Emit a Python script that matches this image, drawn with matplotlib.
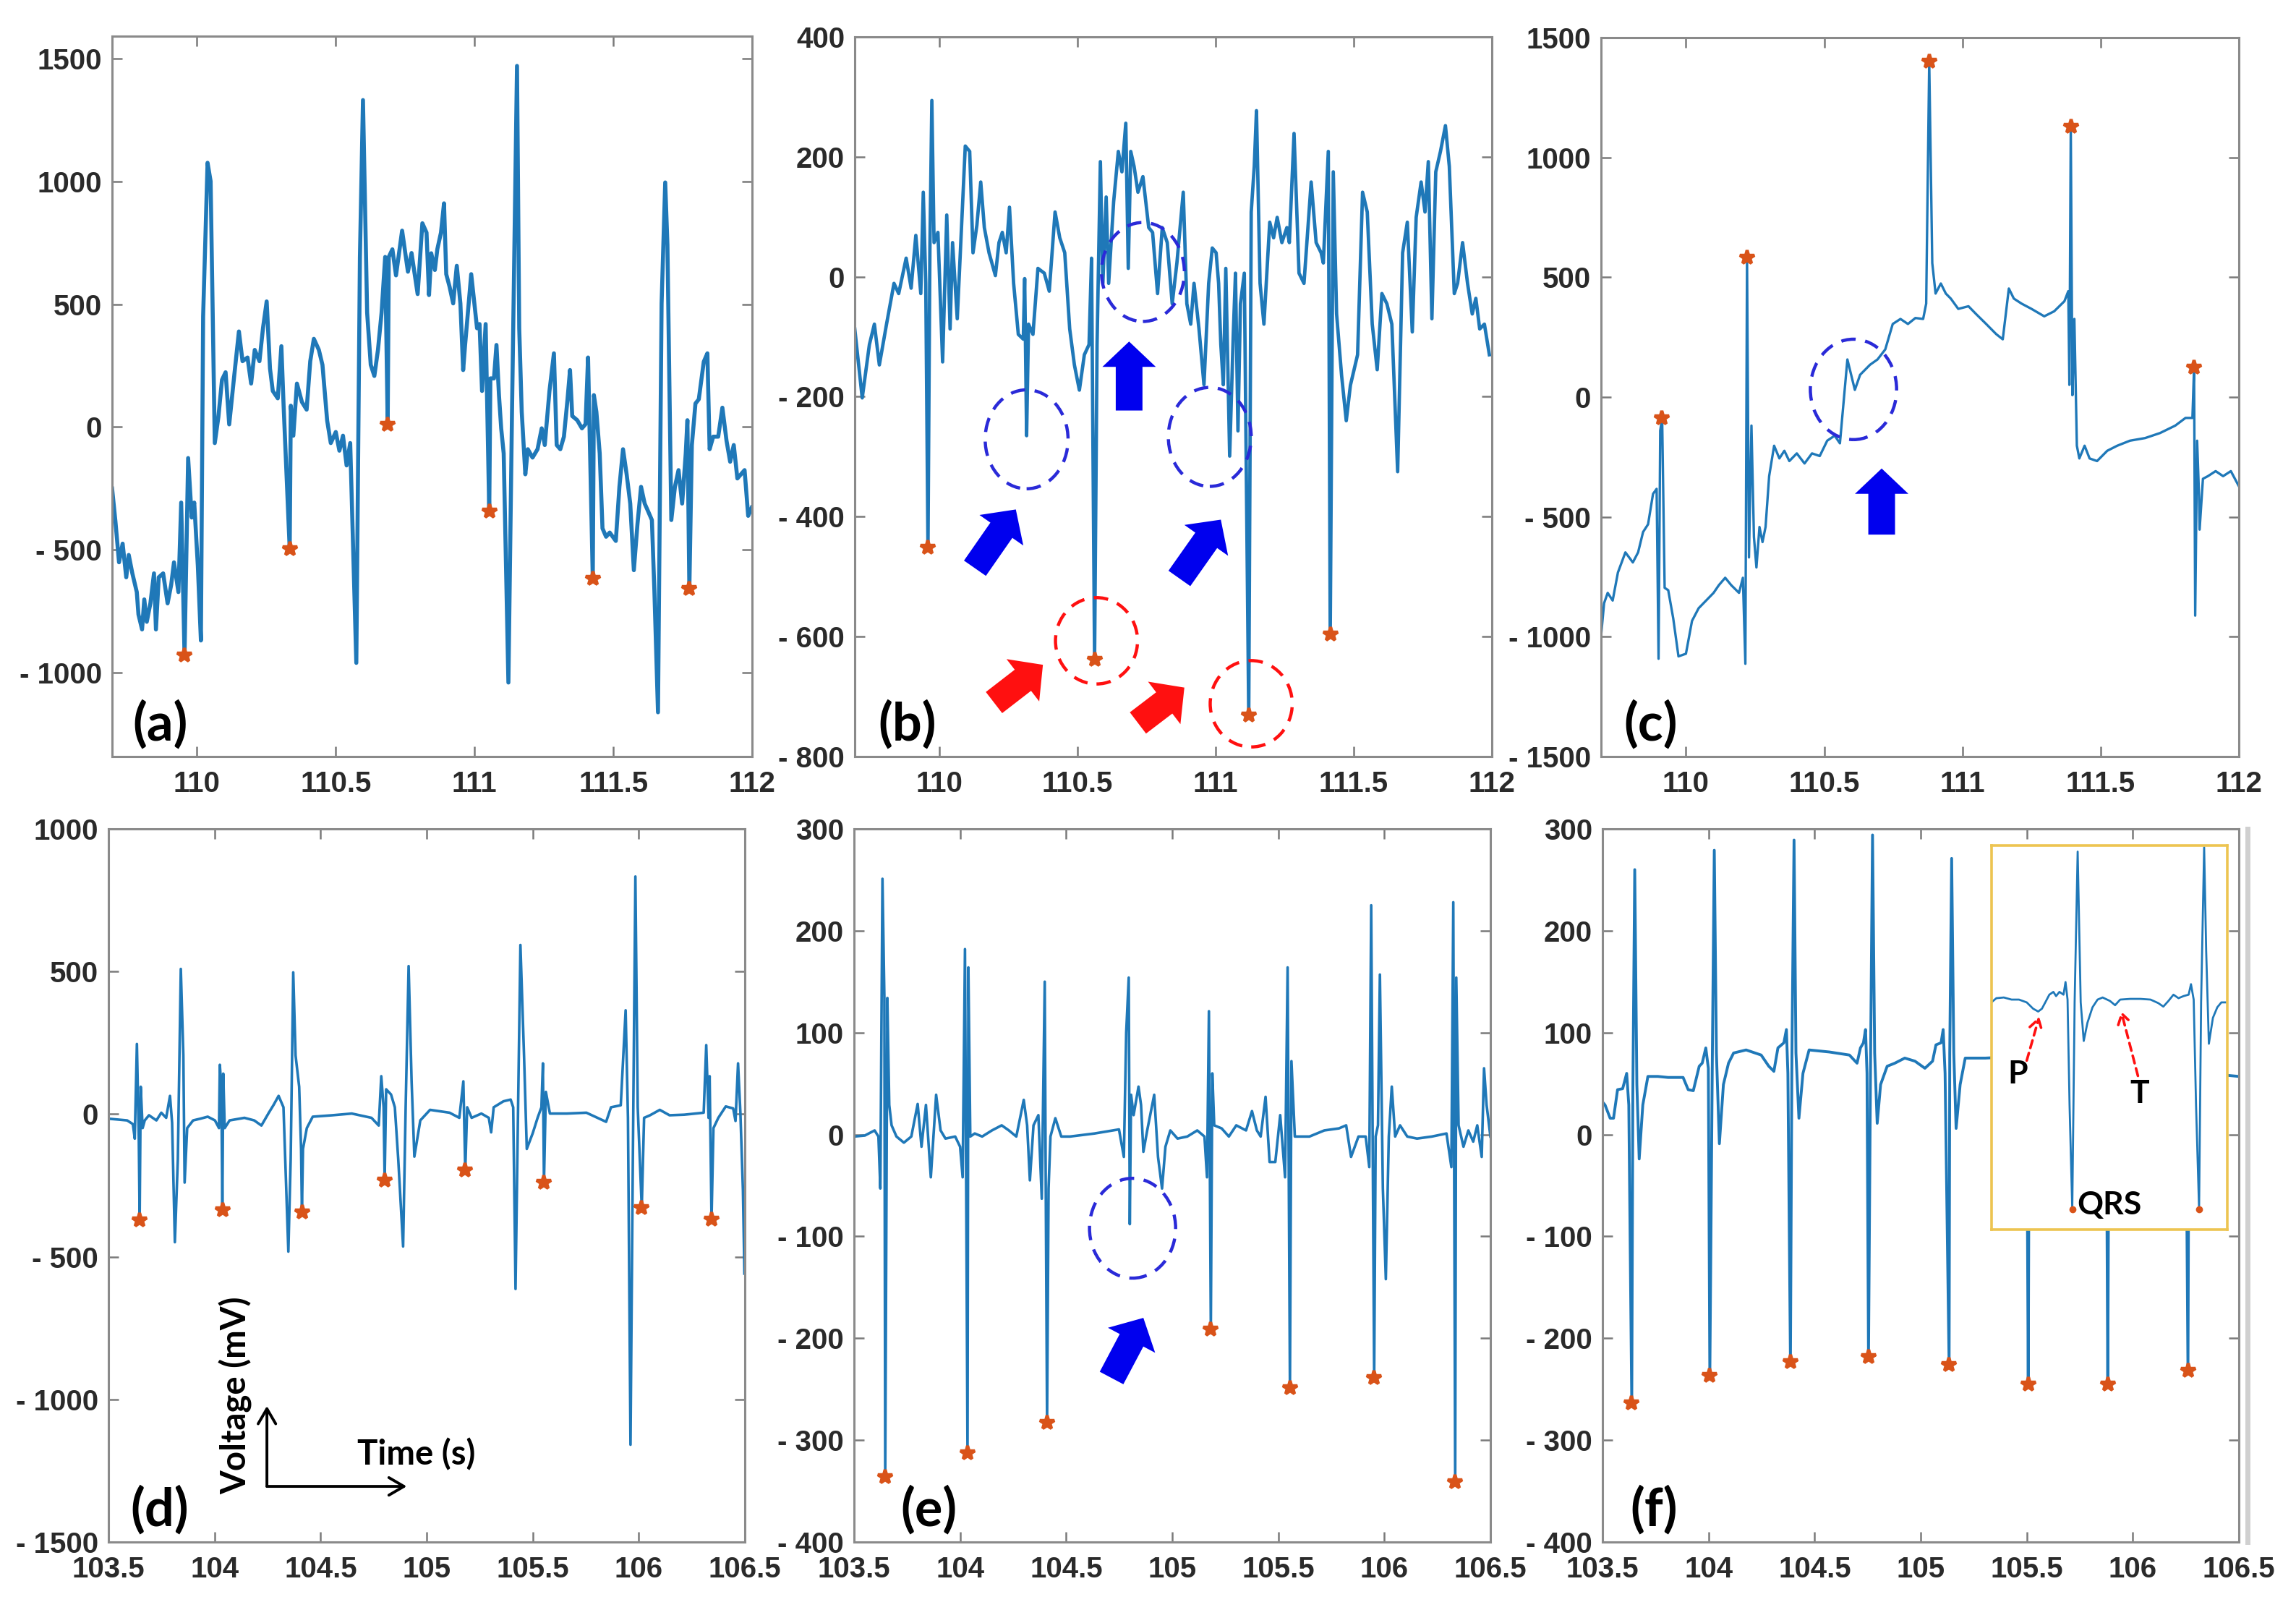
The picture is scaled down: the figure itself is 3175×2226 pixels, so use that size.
import matplotlib
matplotlib.use("Agg")
import matplotlib.pyplot as plt
import numpy as np
from matplotlib.patches import Ellipse
from matplotlib.lines import Line2D

plt.rcParams.update({
    "font.family": ["Liberation Sans Narrow", "Liberation Sans", "DejaVu Sans"],
    "font.size": 12.5,
})

TRACE_COLOR = "#1f78b8"
PEAK_COLOR = "#D95319"
LABEL_FONT = ["Lato", "DejaVu Sans"]

# ---------------- data: (time s, voltage mV) ----------------
A_TRACE = [
    (109.694, -250), (109.706, -383), (109.719, -550), (109.732, -474), (109.745, -611),
    (109.754, -520), (109.767, -595), (109.783, -671), (109.789, -762), (109.802, -823),
    (109.810, -701), (109.819, -792), (109.832, -717), (109.845, -595), (109.852, -823),
    (109.862, -611), (109.878, -595), (109.894, -717), (109.907, -641), (109.917, -550),
    (109.933, -671), (109.943, -307), (109.955, -929), (109.968, -126), (109.981, -368),
    (109.990, -307), (110.003, -565), (110.014, -868), (110.022, 450), (110.038, 1075),
    (110.049, 1000), (110.064, -65), (110.077, 41), (110.090, 192), (110.103, 223),
    (110.116, 11), (110.134, 208), (110.151, 389), (110.164, 268), (110.182, 283),
    (110.195, 177), (110.208, 314), (110.225, 268), (110.238, 405), (110.251, 511),
    (110.263, 238), (110.273, 147), (110.291, 117), (110.304, 329), (110.312, 87),
    (110.334, -497), (110.338, 87), (110.347, -35), (110.360, 177), (110.378, 102),
    (110.395, 71), (110.408, 268), (110.421, 359), (110.439, 314), (110.452, 253),
    (110.469, 26), (110.482, -65), (110.500, -20), (110.513, -96), (110.526, -35),
    (110.539, -156), (110.552, -65), (110.574, -959), (110.587, 692), (110.598, 1330),
    (110.613, 465), (110.626, 253), (110.639, 208), (110.652, 314), (110.665, 465),
    (110.678, 692), (110.687, 11), (110.691, 692), (110.704, 723), (110.717, 617),
    (110.739, 799), (110.760, 632), (110.773, 708), (110.795, 541), (110.812, 829),
    (110.827, 791), (110.836, 537), (110.844, 707), (110.857, 639), (110.866, 724),
    (110.879, 791), (110.890, 910), (110.898, 622), (110.910, 571), (110.923, 503),
    (110.936, 656), (110.949, 503), (110.959, 232), (110.966, 334), (110.988, 622),
    (111.001, 486), (111.009, 402), (111.018, 419), (111.027, 147), (111.040, 419),
    (111.053, -344), (111.057, 198), (111.070, 198), (111.079, 334), (111.088, 130),
    (111.096, -5), (111.105, -107), (111.122, -1039), (111.135, 62), (111.153, 1469),
    (111.161, 402), (111.170, 62), (111.183, -192), (111.192, -90), (111.209, -124),
    (111.227, -90), (111.242, -5), (111.253, -73), (111.270, 147), (111.286, 300),
    (111.296, -73), (111.309, -90), (111.322, -39), (111.335, 113), (111.344, 232),
    (111.352, 45), (111.370, 28), (111.387, -5), (111.400, 12), (111.409, 283),
    (111.426, -615), (111.430, 130), (111.439, 62), (111.451, -107), (111.461, -412),
    (111.474, -446), (111.487, -429), (111.509, -463), (111.522, -243), (111.535, -90),
    (111.548, -192), (111.561, -311), (111.574, -582), (111.587, -395), (111.600, -243),
    (111.613, -311), (111.626, -344), (111.639, -378), (111.648, -666), (111.661, -1160),
    (111.674, 503), (111.687, 995), (111.695, 741), (111.709, -378), (111.722, -243),
    (111.735, -175), (111.748, -311), (111.761, -107), (111.767, 28), (111.774, -658),
    (111.783, -73), (111.796, 96), (111.808, 113), (111.826, 266), (111.839, 300),
    (111.847, -90), (111.860, -39), (111.878, -39), (111.893, 79), (111.908, -56),
    (111.921, -141), (111.934, -73), (111.947, -209), (111.960, -192), (111.973, -175),
    (111.986, -361), (111.999, -327),
]
A_PEAK_T = [109.955, 110.334, 110.687, 111.053, 111.426, 111.774]
A_PEAK_V = [-929, -497, 11, -344, -615, -658]

B_TRACE = [
    (109.694, -87), (109.721, -202), (109.747, -113), (109.765, -79), (109.783, -147),
    (109.809, -79), (109.836, -11), (109.853, -28), (109.880, 31), (109.898, -19),
    (109.915, 69), (109.933, -28), (109.942, 141), (109.951, -11), (109.959, -452),
    (109.966, 48), (109.973, 294), (109.981, 57), (109.995, 74), (110.012, -142),
    (110.027, 103), (110.039, -87), (110.048, 57), (110.065, -70), (110.094, 218),
    (110.110, 209), (110.122, 40), (110.136, 86), (110.150, 158), (110.163, 82),
    (110.180, 40), (110.203, 2), (110.216, 57), (110.228, 74), (110.242, 40),
    (110.254, 116), (110.269, -11), (110.286, -96), (110.304, -104), (110.309, -3),
    (110.316, -265), (110.323, -79), (110.339, -96), (110.357, 14), (110.380, 6),
    (110.398, -24), (110.419, 108), (110.436, 65), (110.454, 40), (110.472, -87),
    (110.489, -147), (110.507, -189), (110.525, -130), (110.542, -113), (110.551, 31),
    (110.562, -638), (110.571, -113), (110.583, 192), (110.592, -11), (110.604, 133),
    (110.613, -11), (110.631, 125), (110.648, 209), (110.661, 175), (110.675, 256),
    (110.684, 14), (110.693, 209), (110.705, 184), (110.719, 141), (110.737, 167),
    (110.758, 82), (110.772, 74), (110.790, -28), (110.807, 82), (110.825, 57),
    (110.843, -45), (110.860, 23), (110.883, 141), (110.896, -45), (110.910, -79),
    (110.922, -11), (110.940, -87), (110.958, -180), (110.975, -11), (110.988, 48),
    (111.002, 40), (111.011, -11), (111.019, -113), (111.028, -180), (111.037, 14),
    (111.051, -299), (111.064, -96), (111.072, 6), (111.081, -257), (111.090, -45),
    (111.104, 6), (111.120, -731), (111.129, 108), (111.140, 184), (111.148, 277),
    (111.161, -11), (111.175, -79), (111.196, 91), (111.210, 65), (111.223, 99),
    (111.240, 57), (111.258, 82), (111.267, 57), (111.284, 239), (111.302, 6),
    (111.320, -11), (111.346, 158), (111.364, 57), (111.382, 40), (111.390, 23),
    (111.408, 209), (111.415, -596), (111.426, 175), (111.438, -62), (111.456, -164),
    (111.473, -240), (111.488, -181), (111.514, -130), (111.532, 141), (111.549, 108),
    (111.567, -79), (111.585, -155), (111.602, -28), (111.620, -45), (111.638, -79),
    (111.659, -325), (111.677, 40), (111.694, 91), (111.712, -92), (111.726, 99),
    (111.744, 158), (111.758, 108), (111.770, 192), (111.783, -70), (111.797, 175),
    (111.814, 209), (111.832, 252), (111.846, 184), (111.864, -28), (111.876, -11),
    (111.894, 57), (111.912, -11), (111.929, -62), (111.942, -36), (111.956, -87),
    (111.973, -79), (111.991, -130),
]
B_PEAK_T = [109.959, 110.562, 111.120, 111.415]
B_PEAK_V = [-452, -638, -731, -596]

C_TRACE = [
    (109.693, -997), (109.704, -860), (109.717, -817), (109.735, -849), (109.754, -732),
    (109.781, -648), (109.808, -690), (109.827, -648), (109.845, -563), (109.863, -531),
    (109.881, -404), (109.894, -383), (109.901, -1092), (109.907, -140), (109.914, -87),
    (109.923, -796), (109.936, -806), (109.954, -923), (109.973, -1082), (110.000, -1071),
    (110.022, -934), (110.046, -881), (110.073, -849), (110.100, -817), (110.119, -785),
    (110.142, -754), (110.164, -785), (110.192, -817), (110.206, -754), (110.215, -1113),
    (110.221, 584), (110.228, -669), (110.237, -119), (110.246, -584), (110.255, -711),
    (110.266, -542), (110.277, -605), (110.288, -542), (110.301, -330), (110.319, -203),
    (110.338, -256), (110.356, -224), (110.374, -267), (110.401, -235), (110.429, -277),
    (110.456, -235), (110.484, -246), (110.511, -182), (110.538, -161), (110.557, -193),
    (110.584, 157), (110.611, 30), (110.630, 93), (110.666, 135), (110.693, 157),
    (110.721, 199), (110.748, 305), (110.776, 326), (110.803, 305), (110.830, 330),
    (110.858, 326), (110.869, 390), (110.880, 1401), (110.891, 559), (110.903, 432),
    (110.922, 474), (110.940, 432), (110.958, 411), (110.985, 368), (111.022, 379),
    (111.049, 347), (111.086, 305), (111.122, 263), (111.146, 241), (111.168, 453),
    (111.186, 411), (111.214, 390), (111.250, 368), (111.296, 337), (111.332, 358),
    (111.369, 400), (111.383, 442), (111.387, 51), (111.392, 1130), (111.398, 8),
    (111.405, 326), (111.414, -203), (111.423, -256), (111.442, -203), (111.460, -256),
    (111.487, -267), (111.524, -224), (111.560, -203), (111.606, -182), (111.661, -171),
    (111.715, -150), (111.770, -119), (111.807, -87), (111.832, -87), (111.838, 125),
    (111.842, -912), (111.849, -182), (111.856, -415), (111.858, -553), (111.870, -341),
    (111.888, -330), (111.916, -309), (111.943, -330), (111.971, -309), (112.000, -372),
]
C_PEAK_T = [109.914, 110.221, 110.880, 111.392, 111.838]
C_PEAK_V = [-87, 584, 1401, 1130, 125]

D_TRACE = [
    (103.500, -16), (103.588, -22), (103.615, -35), (103.624, -86), (103.634, 246),
    (103.643, -86), (103.647, -371), (103.652, 96), (103.661, -49), (103.671, -22),
    (103.691, -4), (103.726, -22), (103.749, 5), (103.772, -13), (103.790, 64),
    (103.800, -31), (103.813, -449), (103.827, -158), (103.841, 509), (103.853, 206),
    (103.859, -240), (103.871, -49), (103.899, -22), (103.933, -16), (103.968, -9),
    (104.002, -22), (104.021, -49), (104.025, 173), (104.032, 96), (104.037, -335),
    (104.041, 142), (104.048, -49), (104.071, -22), (104.141, -13), (104.187, -22),
    (104.221, -40), (104.256, 5), (104.279, 33), (104.302, 64), (104.325, 24),
    (104.348, -482), (104.359, -158), (104.371, 497), (104.382, 206), (104.399, 96),
    (104.408, -122), (104.412, -344), (104.417, -122), (104.435, -49), (104.463, -9),
    (104.555, -4), (104.647, 2), (104.740, -13), (104.774, -40), (104.786, 133),
    (104.797, 24), (104.802, -231), (104.809, 87), (104.832, 69), (104.850, 24),
    (104.866, -158), (104.889, -464), (104.901, 24), (104.915, 519), (104.929, 115),
    (104.942, -149), (104.970, -22), (105.016, 15), (105.108, 5), (105.154, -13),
    (105.173, 115), (105.182, -198), (105.191, 24), (105.212, -13), (105.258, 2),
    (105.293, -13), (105.304, -64), (105.316, 24), (105.362, 45), (105.396, 51),
    (105.408, 24), (105.419, -613), (105.431, 24), (105.442, 593), (105.459, 206),
    (105.472, -122), (105.500, -67), (105.523, -13), (105.541, 24), (105.548, 178),
    (105.553, -240), (105.562, 78), (105.581, 2), (105.661, 2), (105.753, 5),
    (105.846, -27), (105.869, 24), (105.915, 31), (105.938, 364), (105.949, -13),
    (105.961, -1159), (105.972, -158), (105.984, 833), (105.995, 24), (106.014, -328),
    (106.025, -13), (106.053, -4), (106.099, 15), (106.145, -4), (106.214, -2),
    (106.306, 5), (106.318, 242), (106.329, -13), (106.334, 133), (106.343, -368),
    (106.352, -49), (106.375, -13), (106.410, 27), (106.445, 20), (106.456, -24),
    (106.468, 178), (106.479, 5), (106.491, -267), (106.498, -559),
]
D_PEAK_T = [103.647, 104.037, 104.412, 104.802, 105.182, 105.553, 106.014, 106.343]
D_PEAK_V = [-371, -335, -344, -231, -198, -240, -328, -368]

E_TRACE = [
    (103.500, -2), (103.551, -1), (103.597, 4), (103.615, -2), (103.624, -53),
    (103.634, 251), (103.643, 134), (103.647, -336), (103.657, 134), (103.666, 29),
    (103.677, 9), (103.700, -2), (103.735, -8), (103.770, -2), (103.800, 30),
    (103.818, -12), (103.839, 29), (103.862, -42), (103.887, 39), (103.908, 4),
    (103.931, -4), (103.977, -2), (104.000, -12), (104.012, -42), (104.023, 182),
    (104.035, -313), (104.039, 164), (104.048, -2), (104.069, 1), (104.104, -2),
    (104.150, 4), (104.196, 9), (104.230, 4), (104.265, -2), (104.300, 34),
    (104.316, 9), (104.329, -45), (104.346, 9), (104.369, 19), (104.385, -63),
    (104.399, 150), (104.403, -22), (104.410, -283), (104.417, -53), (104.426, -2),
    (104.449, 16), (104.477, -2), (104.518, -2), (104.634, 1), (104.749, 5),
    (104.772, -22), (104.783, 100), (104.795, 154), (104.800, -88), (104.806, 39),
    (104.818, 19), (104.841, 47), (104.853, 29), (104.864, -17), (104.882, 4),
    (104.915, 39), (104.933, -22), (104.952, -53), (104.968, -12), (104.991, 4),
    (105.025, -4), (105.071, -2), (105.118, 4), (105.152, -2), (105.164, -42),
    (105.173, 121), (105.182, -191), (105.189, 60), (105.198, 9), (105.233, 6),
    (105.267, -2), (105.302, 9), (105.348, 4), (105.376, 23), (105.399, 4),
    (105.417, -2), (105.440, 37), (105.459, -27), (105.486, -27), (105.509, 19),
    (105.532, -42), (105.544, 164), (105.555, -249), (105.562, 72), (105.578, -2),
    (105.647, -2), (105.717, 4), (105.786, 6), (105.820, 9), (105.843, -22),
    (105.878, -2), (105.912, -2), (105.929, -32), (105.938, 225), (105.952, -239),
    (105.959, -2), (105.970, 9), (105.979, 157), (105.993, -53), (106.007, -142),
    (106.021, -2), (106.035, 47), (106.051, -2), (106.074, 9), (106.108, -2),
    (106.154, -4), (106.224, -2), (106.293, 1), (106.316, -32), (106.325, 228),
    (106.334, -341), (106.339, 154), (106.350, 9), (106.373, -12), (106.396, 4),
    (106.419, -7), (106.438, 9), (106.459, -22), (106.470, 65), (106.482, 29),
    (106.500, -2),
]
E_PEAK_T = [103.647, 104.035, 104.410, 105.182, 105.555, 105.952, 106.334]
E_PEAK_V = [-336, -313, -283, -191, -249, -239, -341]

F_TRACE = [
    (103.500, 32), (103.512, 29), (103.536, 16), (103.552, 16), (103.571, 44),
    (103.595, 45), (103.614, 60), (103.624, 29), (103.638, -264), (103.643, 39),
    (103.652, 260), (103.662, 49), (103.673, -24), (103.690, 29), (103.714, 57),
    (103.761, 57), (103.809, 56), (103.880, 56), (103.904, 44), (103.928, 43),
    (103.956, 67), (103.970, 70), (103.987, 85), (103.999, 65), (104.006, -237),
    (104.018, 80), (104.027, 279), (104.037, 80), (104.051, -9), (104.070, 49),
    (104.094, 70), (104.118, 80), (104.177, 83), (104.248, 78), (104.284, 67),
    (104.308, 62), (104.327, 85), (104.355, 90), (104.367, 103), (104.374, 60),
    (104.386, -223), (104.393, 80), (104.403, 289), (104.412, 80), (104.426, 16),
    (104.445, 60), (104.474, 83), (104.569, 81), (104.664, 78), (104.700, 70),
    (104.716, 85), (104.730, 90), (104.740, 103), (104.747, 60), (104.754, -218),
    (104.764, 80), (104.773, 294), (104.783, 80), (104.795, 11), (104.811, 49),
    (104.842, 67), (104.878, 70), (104.925, 75), (104.973, 72), (105.020, 65),
    (105.056, 72), (105.072, 88), (105.096, 90), (105.106, 103), (105.115, 60),
    (105.134, -226), (105.137, 80), (105.146, 271), (105.156, 80), (105.167, 6),
    (105.186, 49), (105.210, 75), (105.305, 75), (105.400, 76), (105.440, 90),
    (105.470, 95), (105.490, 104), (105.500, 60), (105.507, -245), (105.512, 80),
    (105.520, 262), (105.530, 80), (105.545, 10), (105.560, 55), (105.600, 75),
    (105.700, 78), (105.800, 80), (105.840, 92), (105.870, 100), (105.875, 60),
    (105.882, -245), (105.888, 80), (105.896, 265), (105.905, 80), (105.920, 15),
    (105.940, 55), (106.000, 70), (106.100, 75), (106.200, 80), (106.240, 95),
    (106.250, 60), (106.260, -232), (106.265, 80), (106.272, 265), (106.280, 80),
    (106.295, 20), (106.320, 55), (106.400, 60), (106.450, 58), (106.500, 57),
]
F_PEAK_T = [103.638, 104.006, 104.386, 104.754, 105.134, 105.507, 105.882, 106.260]
F_PEAK_V = [-264, -237, -223, -218, -226, -245, -245, -232]

# zoomed-in inset of panel (f)
INSET_TRACE = [
    (105.260, 71), (105.275, 77), (105.297, 78), (105.320, 75), (105.342, 75),
    (105.365, 71), (105.384, 62), (105.399, 58), (105.410, 62), (105.420, 71),
    (105.432, 82), (105.444, 86), (105.452, 80), (105.462, 86), (105.474, 82),
    (105.480, 100), (105.486, 75), (105.492, -76), (105.500, -224), (105.507, 71),
    (105.516, 286), (105.525, 71), (105.534, 16), (105.545, 42), (105.560, 64),
    (105.575, 75), (105.590, 78), (105.612, 73), (105.627, 67), (105.642, 75),
    (105.672, 76), (105.702, 76), (105.732, 75), (105.755, 70), (105.770, 65),
    (105.785, 73), (105.800, 82), (105.815, 77), (105.830, 80), (105.845, 82),
    (105.852, 97), (105.860, 75), (105.867, -76), (105.876, -224), (105.882, 71),
    (105.891, 292), (105.897, 145), (105.905, 12), (105.917, 49), (105.930, 64),
    (105.942, 71), (105.960, 71),
]
INSET_PEAK_T = [105.500, 105.876]
INSET_PEAK_V = [-224, -224]

TOP_XTICKS = [110, 110.5, 111, 111.5, 112]
BOTTOM_XTICKS = [103.5, 104, 104.5, 105, 105.5, 106, 106.5]
A_YTICKS = [-1000, -500, 0, 500, 1000, 1500]
B_YTICKS = [-800, -600, -400, -200, 0, 200, 400]
C_YTICKS = [-1500, -1000, -500, 0, 500, 1000, 1500]
D_YTICKS = [-1500, -1000, -500, 0, 500, 1000]
E_YTICKS = [-400, -300, -200, -100, 0, 100, 200, 300]
PANEL_LABELS = ["(a)", "(b)", "(c)", "(d)", "(e)", "(f)"]

# ---------------- layout ----------------
fig = plt.figure(figsize=(15.875, 11.13), dpi=200)
W, H = 3175, 2226


def make_axes(x0, x1, y0, y1):
    return fig.add_axes([x0 / W, 1 - y1 / H, (x1 - x0) / W, (y1 - y0) / H])


ax_a = make_axes(155, 1040, 50, 1046)
ax_b = make_axes(1182, 2063, 51, 1046)
ax_c = make_axes(2214, 3096, 52, 1046)
ax_d = make_axes(150, 1030, 1146, 2132)
ax_e = make_axes(1181, 2061, 1146, 2132)
ax_f = make_axes(2216, 3096, 1146, 2132)


def ylab(v):
    return f"- {abs(v):g}" if v < 0 else f"{v:g}"


def style(ax, trace, pt, pv, xlim, ylim, xticks, yticks, lw):
    arr = np.array(trace, dtype=float)
    ax.plot(arr[:, 0], arr[:, 1], color=TRACE_COLOR, lw=lw, zorder=2)
    ax.plot(pt, pv, ls="none", marker="*", ms=7.5, mew=1.6, color=PEAK_COLOR, zorder=3)
    ax.set_xlim(*xlim)
    ax.set_ylim(*ylim)
    ax.set_xticks(xticks, labels=[f"{v:g}" for v in xticks])
    ax.set_yticks(yticks, labels=[ylab(v) for v in yticks])
    ax.tick_params(direction="in", top=True, right=True, length=5, width=0.9,
                   color="#7a7a7a", labelcolor="#2a2a2a", labelsize=14.5)
    ax.tick_params(axis="x", pad=7)
    ax.tick_params(axis="y", pad=5)
    for lbl in ax.get_xticklabels() + ax.get_yticklabels():
        lbl.set_fontweight("bold")
    for s in ax.spines.values():
        s.set_color("#8a8a8a")
        s.set_linewidth(1.1)


style(ax_a, A_TRACE, A_PEAK_T, A_PEAK_V, (109.694, 112), (-1340, 1590), TOP_XTICKS, A_YTICKS, 2.0)
style(ax_b, B_TRACE, B_PEAK_T, B_PEAK_V, (109.694, 112), (-800, 400), TOP_XTICKS, B_YTICKS, 1.7)
style(ax_c, C_TRACE, C_PEAK_T, C_PEAK_V, (109.693, 112), (-1500, 1500), TOP_XTICKS, C_YTICKS, 1.2)
style(ax_d, D_TRACE, D_PEAK_T, D_PEAK_V, (103.5, 106.5), (-1500, 1000), BOTTOM_XTICKS, D_YTICKS, 1.3)
style(ax_e, E_TRACE, E_PEAK_T, E_PEAK_V, (103.5, 106.5), (-400, 300), BOTTOM_XTICKS, E_YTICKS, 1.3)
style(ax_f, F_TRACE, F_PEAK_T, F_PEAK_V, (103.5, 106.5), (-400, 300), BOTTOM_XTICKS, E_YTICKS, 1.4)

# panel letters
label_x = [0.032, 0.037, 0.036, 0.035, 0.073, 0.044]
for ax, lab, lx in zip([ax_a, ax_b, ax_c, ax_d, ax_e, ax_f], PANEL_LABELS, label_x):
    ax.text(lx, 0.010, lab, transform=ax.transAxes, ha="left", va="bottom",
            fontsize=26, fontweight="bold", family=LABEL_FONT, color="black", zorder=6)


# ---------------- annotations ----------------
def dashed_circle(ax, center, w, h, color):
    ax.add_patch(Ellipse(center, w, h, fill=False, ec=color, lw=1.6,
                         ls=(0, (4.5, 3)), zorder=4, clip_on=False))


def block_arrow(ax, tail, tip, color):
    ax.annotate("", xy=tip, xytext=tail, zorder=5,
                arrowprops=dict(arrowstyle="simple,head_length=0.9,head_width=1.9,tail_width=0.95",
                                mutation_scale=14, color=color, shrinkA=0, shrinkB=0, lw=0))


BLUE = "#0000EE"
RED = "#FF1010"

for c in [(110.316, -271), (110.737, 8), (110.979, -267)]:
    dashed_circle(ax_b, c, 0.30, 165, "#2a2ad8")
for c in [(110.569, -607), (111.129, -712)]:
    dashed_circle(ax_b, c, 0.297, 144, RED)
block_arrow(ax_b, (110.687, -223), (110.687, -108), BLUE)
block_arrow(ax_b, (110.129, -486), (110.277, -388), BLUE)
block_arrow(ax_b, (110.869, -503), (111.019, -405), BLUE)
block_arrow(ax_b, (110.198, -710), (110.375, -647), RED)
block_arrow(ax_b, (110.719, -744), (110.887, -685), RED)

dashed_circle(ax_c, (110.606, 32), 0.312, 419, "#2a2ad8")
block_arrow(ax_c, (110.708, -574), (110.708, -298), BLUE)

dashed_circle(ax_e, (104.813, -92), 0.406, 98, "#2a2ad8")
block_arrow(ax_e, (104.714, -239), (104.864, -180), BLUE)

# axis-direction arrows in (d)
ax_d.annotate("", xy=(104.247, -1023), xytext=(104.247, -1305),
              arrowprops=dict(arrowstyle="->,head_length=0.6,head_width=0.35", lw=1.4,
                              color="black", shrinkA=0, shrinkB=0))
ax_d.annotate("", xy=(104.906, -1305), xytext=(104.247, -1305),
              arrowprops=dict(arrowstyle="->,head_length=0.6,head_width=0.35", lw=1.4,
                              color="black", shrinkA=0, shrinkB=0))
ax_d.text(104.101, -986, "Voltage (mV)", rotation=90, ha="center", va="center",
          fontsize=17, fontweight="bold", family=LABEL_FONT)
ax_d.text(104.952, -1192, "Time (s)", ha="center", va="center",
          fontsize=17, fontweight="bold", family=LABEL_FONT)

# inset in (f)
ins = ax_f.inset_axes([0.611, 0.438, 0.371, 0.539])
ins_arr = np.array(INSET_TRACE, dtype=float)
ins.plot(ins_arr[:, 0], ins_arr[:, 1], color=TRACE_COLOR, lw=1.0)
ins.plot(INSET_PEAK_T, INSET_PEAK_V, ls="none", marker="o", ms=2.5, color=PEAK_COLOR)
ins.set_xlim(105.26, 105.96)
ins.set_ylim(-253, 295)
ins.set_xticks([])
ins.set_yticks([])
ins.set_facecolor("white")
for s in ins.spines.values():
    s.set_color("#EDC451")
    s.set_linewidth(1.3)
for txt, tx, ty in [("P", 0.113, 0.405), ("T", 0.627, 0.354), ("QRS", 0.499, 0.065)]:
    ins.text(tx, ty, txt, transform=ins.transAxes, ha="center", va="center",
             fontsize=16, fontweight="bold", family=LABEL_FONT)
for tail, tip in [((0.15, 0.44), (0.203, 0.554)), ((0.621, 0.40), (0.550, 0.568))]:
    ins.annotate("", xy=tip, xytext=tail, xycoords="axes fraction", textcoords="axes fraction",
                 arrowprops=dict(arrowstyle="->,head_length=0.4,head_width=0.25", lw=1.3,
                                 ls=(0, (3, 2)), color=RED, shrinkA=0, shrinkB=0))

# faint grey strip at the right edge of panel (f)
fig.add_artist(Line2D([3108 / W, 3108 / W], [1 - 2132 / H, 1 - 1146 / H],
                      color="#d0d0d0", lw=2.5))

fig.savefig("out.png", dpi=200)
